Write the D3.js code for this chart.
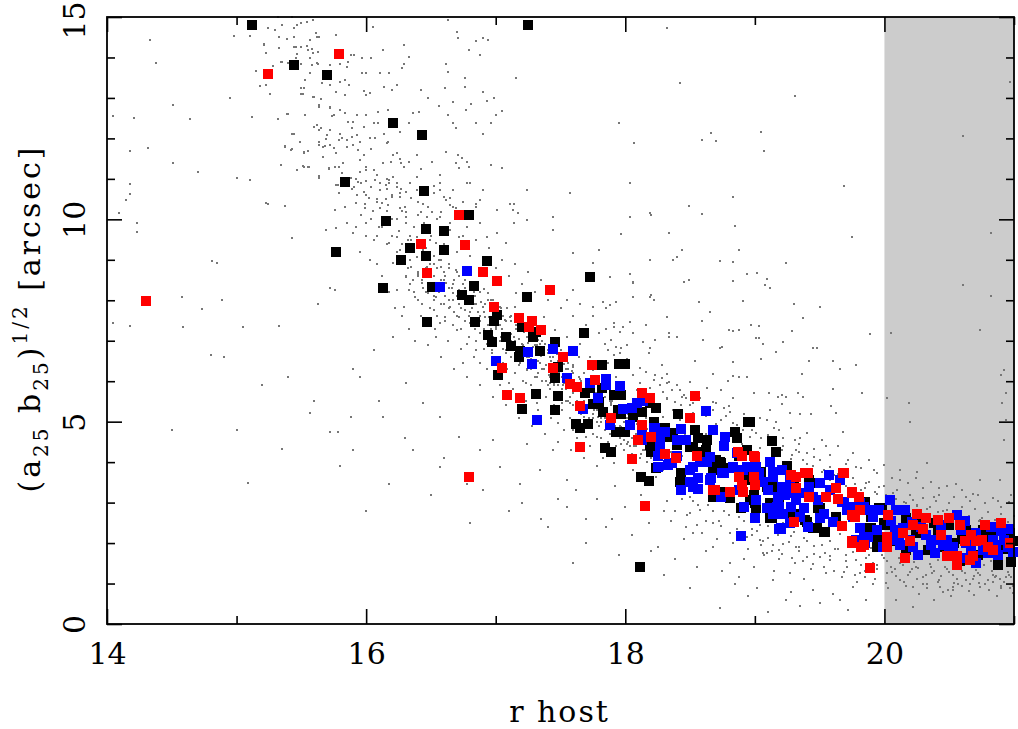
<!DOCTYPE html>
<html lang="en">
<head>
<meta charset="UTF-8">
<title>Satellite size vs host magnitude</title>
<script src="https://d3js.org/d3.v7.min.js"></script>
<style>
  body { margin: 0; background: #fff; }
  svg text { font-family: "DejaVu Serif", serif; fill: #000; }
  .pts rect { shape-rendering: crispEdges; }
</style>
</head>
<body>
<svg id="chart" width="1018" height="729"></svg>
<script>
// ---- values ----
const xDomain = [14, 21];
const yDomain = [0, 15];
const xTicks = [14, 16, 18, 20];
const xMinor = [15, 17, 19, 21];
const yTicks = [0, 5, 10, 15];
const yMinor = [1, 2, 3, 4, 6, 7, 8, 9, 11, 12, 13, 14];
const shadedRange = [20, 21];

// background sample (small grey dots), "x y" pairs
const grayDots = `
14.33 14.43, 14.38 13.87, 14.05 12.55, 14.21 12.50, 14.51 12.82, 14.64 12.48, 14.95 13.00, 14.18 11.70,
14.32 11.77, 14.51 11.39, 14.70 11.17, 15.00 11.03, 15.10 10.96, 14.18 10.87, 14.18 10.62, 14.15 10.47,
14.09 10.16, 14.23 9.90, 14.23 9.69, 15.23 10.41, 15.37 10.34, 15.43 9.53, 14.81 8.96, 14.85 8.93,
14.58 8.09, 14.73 7.78, 14.89 8.00, 14.05 7.43, 14.18 7.37, 14.59 7.35, 15.05 7.35, 15.33 7.37,
15.63 7.91, 15.72 8.30, 15.76 8.25, 15.57 5.22, 15.72 4.74, 15.78 4.74, 15.35 4.32, 15.09 3.48,
14.80 6.65, 14.90 6.60, 14.50 4.80, 15.12 12.52, 15.32 12.49, 15.39 12.60, 15.44 12.10, 15.37 11.80,
15.43 11.73, 15.52 11.65, 15.34 11.34, 15.47 11.23, 15.51 11.31, 15.56 11.30, 15.32 14.99, 15.43 14.99,
15.24 14.72, 15.30 14.68, 15.35 14.80, 15.44 14.72, 15.47 14.80, 15.50 14.84, 15.54 14.87, 15.59 14.92,
14.98 14.53, 15.21 14.33, 15.33 14.50, 15.39 14.45, 15.44 14.50, 15.57 14.43, 15.62 14.51, 15.61 14.61,
15.23 14.12, 15.33 14.24, 15.44 14.25, 15.50 14.27, 15.55 14.18, 15.59 14.10, 15.34 13.89, 15.40 13.87,
15.50 13.85, 15.58 13.81, 15.62 13.87, 15.15 13.67, 15.28 13.80, 15.18 13.29, 15.23 13.32, 15.26 13.10,
15.50 13.25, 15.51 13.10, 15.59 13.03, 15.65 12.97, 15.72 13.32, 15.64 12.78, 15.72 12.76, 15.74 12.55,
15.60 12.29, 15.65 12.25, 15.72 12.21, 15.69 11.98, 15.64 11.84, 15.68 11.80, 15.72 11.84, 15.75 11.76,
15.77 11.63, 15.67 11.55, 15.71 11.26, 15.76 11.30, 15.64 11.06, 15.77 10.85, 15.76 10.23, 15.77 9.78,
15.69 9.74,
15.64 14.51, 15.10 14.54, 15.77 14.55, 16.05 14.76, 16.70 14.62, 16.71 14.47, 16.85 14.41, 16.90 14.49,
16.94 14.43, 16.63 14.92, 15.21 14.32, 15.46 14.27, 15.54 14.29, 15.58 14.22, 15.63 14.14, 15.47 14.08,
15.46 13.98, 15.35 13.90, 15.57 13.99, 15.63 13.85, 15.72 13.81, 15.77 13.98, 15.80 13.85, 15.86 13.90,
15.85 13.77, 15.88 14.06, 15.91 14.06, 15.97 13.99, 16.04 13.98, 16.13 14.18, 16.29 14.31, 16.33 14.02,
16.28 13.73, 16.29 13.85, 16.62 13.83, 16.63 13.65, 16.76 13.50, 16.76 13.28, 16.79 14.18, 16.88 14.06,
17.16 13.50, 16.00 13.61, 15.97 13.61, 16.11 13.61, 16.18 13.61, 16.14 13.28, 16.24 13.32, 16.20 13.19,
16.42 13.19, 16.48 12.99, 16.56 12.81, 16.67 12.89, 16.81 12.84, 16.93 12.92, 16.99 12.99, 16.90 13.15,
16.77 12.70, 16.61 13.25, 15.18 13.30, 15.50 13.09, 15.52 13.25, 15.53 13.44, 15.57 13.61, 15.66 13.36,
15.80 13.40, 15.84 13.44, 15.87 13.32, 15.77 13.14, 15.84 13.07, 15.98 13.17, 16.00 13.07, 16.03 13.13,
14.95 13.00, 15.60 13.03, 15.64 12.82, 15.72 12.78, 15.75 12.58, 15.80 12.70, 15.84 12.62, 15.86 12.41,
15.90 12.41, 15.93 12.58, 16.00 12.58, 15.89 12.26, 15.98 12.29, 16.06 12.37, 16.09 12.66, 16.17 12.70,
16.09 12.37, 16.14 12.12, 16.26 12.16, 16.33 12.37, 16.36 12.62, 16.41 12.66, 15.53 12.58, 15.44 12.12,
15.40 12.60, 15.32 12.48, 15.62 12.33, 15.64 12.21, 15.70 12.08, 15.80 12.12, 15.81 12.00, 15.79 11.96,
15.85 11.96, 15.89 12.04, 15.93 12.08, 15.95 11.92, 16.03 12.02, 16.07 12.02, 16.16 11.88, 16.17 11.92,
15.49 11.92, 15.42 11.71, 15.52 11.67, 15.55 11.69, 15.64 11.92, 15.67 11.79, 15.72 11.84, 15.85 11.79,
15.90 11.84, 15.94 11.71, 15.98 11.59, 16.04 11.75, 16.21 11.59, 16.24 11.63, 16.27 11.38, 16.26 11.49,
16.19 11.42, 16.33 11.42, 16.39 11.59, 16.42 11.24, 16.51 11.42, 16.62 11.67, 16.71 11.59, 16.74 11.51,
16.78 11.42, 16.79 11.30, 16.72 11.26, 16.69 11.38, 16.96 11.34, 17.05 11.26, 16.63 12.58, 16.67 12.37,
16.69 12.25, 16.85 12.37, 16.90 12.12, 16.96 12.37, 17.00 12.58, 17.05 12.68,
15.34 11.34, 15.37 11.79, 15.43 12.10, 15.52 11.30, 15.55 11.30, 15.47 11.22, 15.64 11.03, 15.71 11.24,
15.79 11.30, 15.81 11.14, 15.88 11.01, 15.95 11.18, 16.00 11.22, 15.94 10.93, 16.00 10.95, 16.07 10.97,
16.11 10.89, 16.15 10.85, 16.16 10.76, 16.18 10.97, 16.24 10.89, 16.27 10.76, 16.20 10.56, 16.26 10.56,
16.31 10.68, 16.35 10.53, 16.39 10.72, 16.40 10.44, 16.48 10.76, 16.52 10.83, 16.57 11.09, 16.57 10.72,
16.60 10.56, 16.65 10.52, 16.67 10.31, 16.75 10.44, 16.80 10.89, 16.85 10.39, 16.88 10.48, 15.78 10.85,
15.79 10.64, 15.89 10.75, 15.93 10.60, 15.98 10.68, 16.02 10.53, 16.08 10.44, 16.11 10.27, 16.17 10.35,
16.26 10.27, 16.31 10.19, 16.42 10.19, 16.48 10.31, 16.51 10.19, 16.58 10.19, 16.65 10.35, 16.69 10.29,
15.00 11.03, 15.10 10.97, 15.24 10.39, 15.37 10.34, 15.84 10.31, 15.99 10.29, 17.11 10.39, 17.13 10.23,
17.17 10.15,
18.32 14.72, 18.42 13.36, 19.31 13.05, 17.95 12.39, 18.07 11.88, 18.59 11.96, 18.66 12.14, 18.70 11.93,
19.05 12.16, 19.07 11.69, 18.04 10.90, 19.69 10.83, 18.83 10.56, 18.49 10.33, 18.20 10.11, 18.59 10.12,
18.85 9.83, 17.97 9.64, 19.75 9.56, 18.44 9.23, 18.40 9.08, 18.88 9.23, 18.73 8.98, 18.83 8.95,
19.24 8.91, 18.06 8.46, 18.45 8.46, 18.49 8.49, 18.83 8.47, 18.94 8.64, 19.02 8.68, 19.09 8.52,
19.08 8.38, 19.12 8.31, 18.20 8.13, 18.91 7.99, 18.57 7.95, 19.30 7.90, 19.50 7.84, 19.37 7.55,
18.65 7.72, 18.59 7.49, 18.16 7.40, 18.80 7.26, 18.83 7.24, 18.88 7.26, 18.97 7.39, 19.03 7.36,
18.34 7.18, 19.29 7.24, 19.89 7.16, 20.05 7.18, 19.01 7.06, 19.03 7.07, 19.06 6.92, 18.60 7.02,
19.22 6.98, 18.73 6.83, 18.75 6.85, 19.45 6.83, 19.48 6.83, 19.42 6.49, 19.16 6.73, 19.05 6.56,
18.83 6.48, 18.54 6.50, 19.60 6.50, 19.66 6.30, 19.78 6.40, 18.68 6.19, 18.83 6.13, 18.94 6.11,
18.88 6.11, 19.36 6.18, 18.79 6.01, 18.63 5.82, 18.74 5.78, 18.99 5.71, 19.11 5.70, 19.21 5.66,
19.18 5.62, 19.24 5.62, 19.33 5.70, 19.37 5.60, 19.60 5.80, 19.83 5.71, 18.83 5.58, 19.21 5.43,
19.59 5.39, 19.12 5.29, 19.35 5.20, 19.43 5.20, 20.61 12.07, 20.97 13.40, 20.82 9.65, 20.61 8.38,
20.82 8.11, 20.74 7.26, 20.02 5.58, 20.19 5.45, 20.92 6.28, 20.90 6.15, 20.94 5.70, 20.91 5.45,
17.83 7.96, 17.85 7.80, 17.88 7.88, 17.93 7.96, 17.91 7.43, 17.85 7.30, 17.96 7.22, 17.98 7.35,
18.04 7.47, 18.06 7.18, 17.84 6.93, 17.89 7.02, 17.93 6.85, 17.87 6.77, 17.97 6.81, 18.01 6.89,
17.84 6.49, 17.91 6.65, 17.96 6.69, 18.01 6.56, 18.14 6.98, 18.19 6.81, 18.23 7.02, 18.18 6.69,
18.28 6.40, 18.11 6.32, 18.16 6.23, 18.23 6.15, 18.28 6.07, 18.32 6.19, 18.34 5.99, 18.40 5.91,
18.36 5.78, 18.42 5.78, 18.45 5.66, 18.47 5.58, 18.27 5.91, 18.22 6.03, 18.29 5.74, 18.32 5.58,
18.38 5.49, 18.43 5.41, 18.50 5.99, 18.52 5.45, 18.58 5.58, 18.70 5.45, 18.76 5.33, 18.81 5.25,
18.11 5.95, 18.06 6.15, 18.19 5.82,
15.82 11.38, 15.95 11.47, 16.06 11.22, 16.13 11.38, 16.21 11.05, 16.29 11.30, 15.91 10.81, 15.99 10.39,
16.11 10.72, 16.18 10.89, 16.26 10.64, 16.34 10.89, 16.39 11.05, 16.44 10.39, 16.52 10.64, 16.57 10.89,
16.62 10.48, 16.67 10.72, 16.57 10.06, 16.47 10.06, 16.31 10.06, 16.24 9.57, 16.06 9.49, 15.90 9.65,
16.03 8.99, 16.18 9.41, 16.39 9.57, 16.54 9.41, 16.65 9.74, 16.72 9.57, 16.78 9.82, 16.88 9.90,
16.93 9.57, 17.01 9.65, 17.08 9.41, 17.14 9.90, 17.24 9.98, 17.01 10.23, 17.14 10.39, 16.85 10.31,
16.90 10.72, 16.78 10.89, 17.24 10.72, 17.57 10.64, 17.44 9.74, 17.60 9.16, 17.75 8.91, 17.88 8.58,
18.04 8.66, 18.19 8.99, 18.06 8.09, 18.19 8.09, 18.37 8.99, 18.32 7.59, 18.40 7.10,
16.21 8.91, 16.26 9.24, 16.31 8.58, 16.35 8.83, 16.39 9.08, 16.43 8.42, 16.24 8.25, 16.38 8.09,
16.29 7.84, 16.44 9.24, 16.40 8.66, 16.33 8.25, 16.47 8.83, 16.50 8.58, 16.54 8.09, 16.58 8.83,
16.62 8.42, 16.65 7.84, 16.69 8.75, 16.52 7.76, 16.57 7.43, 16.67 8.17, 16.61 7.59, 16.48 8.17,
16.70 7.26, 16.54 7.10, 16.72 8.25, 16.76 7.76, 16.80 7.43, 16.84 7.92, 16.88 7.18, 16.92 7.59,
16.94 8.17, 16.78 6.93, 16.85 6.77, 16.93 6.93, 16.72 7.59, 16.81 8.42, 16.90 7.84, 16.96 7.26,
16.88 6.44, 16.75 6.44, 16.98 8.00, 17.01 7.43, 17.05 7.10, 17.08 6.77, 17.11 7.59, 17.15 7.84,
17.19 6.44, 16.97 6.77, 17.06 6.44, 17.14 7.10, 17.20 6.93, 17.01 6.11, 17.10 5.95, 17.16 8.17,
17.03 7.84, 17.21 7.43, 16.98 7.10, 17.24 7.10, 17.26 6.61, 17.30 6.11, 17.34 6.44, 17.38 6.93,
17.42 5.95, 17.46 7.26, 17.23 5.95, 17.32 5.45, 17.39 5.62, 17.44 6.61, 17.28 7.59, 17.37 7.59,
17.47 6.28, 17.24 6.28, 17.34 6.93, 17.50 6.77, 17.53 5.95, 17.57 5.45, 17.60 6.36, 17.64 6.61,
17.68 5.12, 17.71 6.03, 17.51 5.45, 17.60 4.79, 17.70 4.63, 17.48 4.96, 17.65 6.93, 17.55 7.10,
17.73 6.61, 17.62 5.78, 17.56 6.44, 17.75 5.53, 17.80 5.95, 17.86 4.96, 17.89 5.45, 17.93 6.11,
17.97 4.46, 17.78 4.63, 17.83 4.30, 17.91 3.97, 17.75 6.28, 17.98 5.29, 17.87 6.44, 17.95 4.79,
17.79 5.12, 17.98 5.95, 18.04 5.12, 18.09 5.78, 18.14 4.30, 18.19 4.71, 18.24 3.64, 18.29 5.12,
18.34 4.63, 18.40 4.13, 18.06 3.80, 18.22 5.45, 18.37 5.29, 18.01 4.46, 18.17 3.47, 18.32 5.95,
18.41 3.39, 18.27 3.89,
16.06 6.77, 16.21 7.10, 15.95 6.11, 16.31 5.95, 16.44 5.45, 16.57 5.12, 16.72 4.63, 16.88 4.30,
17.03 3.89, 17.19 3.47, 17.34 3.80, 17.55 3.56, 16.13 5.12, 15.90 4.30, 16.36 4.30, 16.57 3.89,
16.78 3.47, 16.98 4.54, 17.24 4.46, 17.44 4.30, 15.88 5.12, 16.18 3.47,
17.60 8.25, 17.75 7.84, 17.91 7.35, 18.06 8.42, 18.22 8.00, 18.34 7.10, 18.04 10.06, 18.19 10.15,
17.44 10.06, 17.80 9.24, 18.34 9.65,
16.60 8.50, 16.66 8.31, 16.71 8.12, 16.75 8.40, 16.80 7.98, 16.83 8.20, 16.86 7.70, 16.89 7.95,
16.91 8.28, 16.95 7.58, 16.97 7.85, 17.00 7.35, 17.02 7.66, 17.05 7.28, 17.07 7.52, 17.09 7.80,
17.12 7.17, 17.13 6.96, 17.16 7.40, 17.18 7.05, 17.21 6.80, 17.22 7.22, 17.25 6.95, 17.27 6.55,
17.29 6.85, 17.31 6.42, 17.33 7.02, 17.35 6.62, 17.37 6.30, 17.40 6.78, 17.41 6.15, 17.43 6.50,
17.45 5.95, 17.47 6.68, 17.49 6.22, 17.51 5.80, 17.53 6.42, 17.55 6.02, 17.57 5.62, 17.59 6.25,
17.61 5.85, 17.63 5.45, 17.65 6.05, 17.67 5.66, 17.69 5.28, 17.71 5.90, 17.73 5.50, 17.75 5.10,
17.77 5.72, 17.79 5.35, 17.81 4.98, 17.83 5.58, 17.85 5.18, 17.87 4.82, 17.89 5.40, 17.91 5.02,
17.93 4.66, 17.95 5.25, 17.97 4.88, 17.99 4.55, 18.01 5.10, 18.03 4.72, 18.05 5.42, 18.07 4.40,
18.09 4.95, 18.11 4.60, 18.13 5.25, 18.15 4.30, 18.17 4.82, 18.19 4.48, 18.21 5.08, 18.23 4.20,
18.25 4.70, 18.27 4.35, 18.29 4.92, 18.31 4.10, 18.33 4.58, 18.35 4.25, 18.37 4.80, 18.39 3.98,
18.42 4.46, 18.44 4.15, 18.46 4.68, 18.48 3.88, 18.50 4.36,
16.31 9.9, 16.31 8.6, 16.31 9.3, 16.34 8.4, 16.34 9.6, 16.34 9.0, 16.37 9.2, 16.37 8.2, 16.37 9.8,
16.40 8.7, 16.40 9.4, 16.40 8.0, 16.43 9.1, 16.43 7.9, 16.43 8.5, 16.46 8.2, 16.46 9.3, 16.46 8.8,
16.49 8.9, 16.49 7.8, 16.49 9.5, 16.52 8.0, 16.52 8.6, 16.52 9.1, 16.55 8.8, 16.55 7.6, 16.55 8.3,
16.58 7.9, 16.58 9.0, 16.58 8.5, 16.61 8.6, 16.61 7.5, 16.61 8.1, 16.64 7.8, 16.64 8.9, 16.64 8.3,
16.67 8.4, 16.67 7.4, 16.67 8.0, 16.70 7.6, 16.70 8.7, 16.70 8.1, 16.73 8.2, 16.73 7.3, 16.73 7.8,
16.76 7.5, 16.76 8.5, 16.76 7.9, 16.79 8.1, 16.79 7.1, 16.79 7.6, 16.82 7.4, 16.82 8.3, 16.82 7.8,
16.85 7.9, 16.85 7.0, 16.85 7.5, 16.88 7.2, 16.88 8.2, 16.88 7.6, 16.91 7.7, 16.91 6.8, 16.91 7.3,
16.94 7.0, 16.94 8.0, 16.94 7.4, 16.97 7.5, 16.97 6.7, 16.97 7.2, 17.00 6.9, 17.00 7.8, 17.00 7.3,
17.03 7.4, 17.03 6.5, 17.03 7.0, 17.06 6.8, 17.06 7.6, 17.06 7.1, 17.09 7.2, 17.09 6.3, 17.09 6.8,
17.12 6.6, 17.12 7.5, 17.12 7.0, 17.15 7.0, 17.15 6.2, 17.15 6.7, 17.18 6.4, 17.18 7.3, 17.18 6.8,
17.21 6.9, 17.21 6.0, 17.21 6.5, 17.24 6.3, 17.24 7.1, 17.24 6.6, 17.27 6.7, 17.27 5.9, 17.27 6.3,
17.30 6.1, 17.30 6.9, 17.30 6.5, 17.33 6.5, 17.33 5.7, 17.33 6.2, 17.36 6.0, 17.36 6.8, 17.36 6.3,
17.39 6.4, 17.39 5.6, 17.39 6.0, 17.42 5.8, 17.42 6.6, 17.42 6.1, 17.45 6.2, 17.45 5.4, 17.45 5.9,
17.48 5.7, 17.48 6.5, 17.48 5.9, 17.51 6.1, 17.51 5.3, 17.51 5.7, 17.54 5.5, 17.54 6.3, 17.54 5.8,
17.57 5.9, 17.57 5.1, 17.57 5.6, 17.60 5.4, 17.60 6.2, 17.60 5.7, 17.63 5.8, 17.63 5.0, 17.63 5.5,
17.66 5.2, 17.66 6.0, 17.66 5.6, 17.69 5.6, 17.69 4.9, 17.69 5.3, 17.72 5.1, 17.72 5.9, 17.72 5.4,
17.75 5.5, 17.75 4.7, 17.75 5.2, 17.78 5.0, 17.78 5.7, 17.78 5.3, 17.81 5.4, 17.81 4.6, 17.81 5.1,
17.84 4.8, 17.84 5.6, 17.84 5.1, 17.87 5.2, 17.87 4.5, 17.87 4.9, 17.90 4.7, 17.90 5.5, 17.90 5.0,
17.93 5.1, 17.93 4.4, 17.93 4.8, 17.96 4.6, 17.96 5.4, 17.96 4.9, 17.99 5.0, 17.99 4.3, 17.99 4.7,
18.02 4.5, 18.02 5.2, 18.02 4.8, 18.05 4.9, 18.05 4.2, 18.05 4.6, 18.08 4.4, 18.08 5.1, 18.08 4.7,
18.11 4.8, 18.11 4.1, 18.11 4.5, 18.14 4.3, 18.14 5.0, 18.14 4.6, 18.17 4.7, 18.17 4.0, 18.17 4.4,
18.20 4.2, 18.20 4.9, 18.20 4.5, 18.23 4.6, 18.23 3.9, 18.23 4.3, 18.26 4.1, 18.26 4.8, 18.26 4.4,
18.29 4.5, 18.29 3.8, 18.29 4.2,
15.92 10.4, 15.92 11.0, 15.92 9.8, 15.96 10.9, 15.96 10.1, 16.00 10.6, 16.00 9.9, 16.00 11.3,
16.04 10.0, 16.04 10.8, 16.08 10.5, 16.08 9.6, 16.08 11.1, 16.12 9.8, 16.12 10.4, 16.16 10.2,
16.16 9.4, 16.16 11.0, 16.20 9.6, 16.20 10.6, 16.24 10.0, 16.24 9.2, 16.24 10.8, 16.28 9.4, 16.28 10.2,
16.32 8.8, 16.32 9.5, 16.36 9.2, 16.36 8.5, 16.40 8.6, 16.40 9.4, 16.44 9.0, 16.44 8.3, 16.48 8.4,
16.48 9.2, 16.52 8.9, 16.52 8.1, 16.56 8.2, 16.56 9.0, 16.60 8.7, 16.60 7.9, 16.64 8.0, 16.64 8.8,
16.68 8.5, 16.68 7.7, 16.72 7.9, 16.72 8.6, 16.76 8.3, 16.76 7.5, 16.80 7.7, 16.80 8.4, 16.84 8.1,
16.84 7.3, 16.88 7.5, 16.88 8.2, 16.92 7.9, 16.92 7.1, 16.96 7.3, 16.96 8.0, 17.00 7.7, 17.00 6.9,
17.04 7.1, 17.04 7.8, 17.08 7.5, 17.08 6.7, 17.12 6.9, 17.12 7.6, 17.16 7.3, 17.16 6.5, 17.20 6.7,
17.20 7.4, 17.24 7.1, 17.24 6.3, 17.28 6.5, 17.28 7.2, 17.32 6.9, 17.32 6.1, 17.36 6.3, 17.36 7.0,
17.40 6.7, 17.40 5.9, 17.44 6.1, 17.44 6.8, 17.48 6.5, 17.48 5.7, 17.52 5.9, 17.52 6.6, 17.56 6.3,
17.56 5.5, 17.60 5.7, 17.60 6.4, 17.64 6.1, 17.64 5.3, 17.68 5.5, 17.68 6.2, 17.72 5.9, 17.72 5.1,
17.76 5.3, 17.76 6.0, 17.80 5.7, 17.80 4.9, 17.84 5.1, 17.84 5.8, 17.88 5.5, 17.88 4.7, 17.92 4.9,
17.92 5.6, 17.96 5.3, 17.96 4.6, 18.00 4.8, 18.00 5.4, 18.04 5.1, 18.04 4.4, 18.08 4.6, 18.08 5.3,
18.12 5.0, 18.12 4.2, 18.16 4.4, 18.16 5.1, 18.20 4.8, 18.20 4.1, 18.24 4.3, 18.24 5.0, 18.28 4.7,
18.28 3.9,
18.32 5.55, 18.38 5.30, 18.44 5.62, 18.50 5.40, 18.56 5.70, 18.62 5.15, 18.68 5.48, 18.74 5.05,
18.80 5.38, 18.86 4.92, 18.92 5.20, 18.98 4.80, 19.04 5.08, 19.10 4.68, 19.16 4.98, 19.22 4.60,
19.28 4.85, 19.34 4.45, 19.40 4.72, 19.46 4.32, 19.52 4.55, 19.58 4.18, 19.64 4.40, 19.70 3.95,
19.76 4.22, 19.82 3.85, 19.88 4.05, 19.94 3.72, 20.00 3.92, 20.06 3.62, 20.12 3.80, 20.18 3.48,
20.24 3.60, 20.30 3.35, 20.36 3.52, 20.42 3.20, 20.48 3.40, 20.54 3.15, 20.60 3.30, 20.66 3.05,
20.72 3.18, 20.78 2.98, 20.84 3.12, 20.90 2.90, 20.96 3.02,
19.05 4.60, 19.13 4.45, 19.21 4.30, 19.29 4.18, 19.37 4.05, 19.45 3.90, 19.53 3.80, 19.61 3.68,
19.69 3.55, 19.77 3.45, 19.85 3.35, 19.93 3.25, 20.01 3.18, 20.09 3.08, 20.17 3.00, 20.25 2.92,
20.33 2.85, 20.41 2.78, 20.49 2.72, 20.57 2.66, 20.65 2.60, 20.73 2.55, 20.81 2.50, 20.89 2.45,
20.97 2.40,
18.32 3.05, 18.38 2.80, 18.44 3.10, 18.50 2.75, 18.56 2.95, 18.62 2.55, 18.68 2.80, 18.74 2.42,
18.80 2.70, 18.86 2.35, 18.92 2.55, 18.98 2.20, 19.04 2.45, 19.10 2.12, 19.16 2.32, 19.22 1.98,
19.28 2.18, 19.34 1.90, 19.40 2.05, 19.46 1.72, 19.52 1.95, 19.58 1.68, 19.64 1.85, 19.70 1.55,
19.76 1.78, 19.82 1.45, 19.88 1.70, 19.94 1.35, 20.00 1.62, 20.06 1.28, 20.12 1.50, 20.18 1.22,
20.24 1.42, 20.30 1.15, 20.36 1.40, 20.42 1.08, 20.48 1.35, 20.54 1.02, 20.60 1.30, 20.66 1.00,
20.72 1.25, 20.78 0.98, 20.84 1.22, 20.90 0.95, 20.96 1.20,
19.05 1.95, 19.13 1.80, 19.21 1.72, 19.29 1.62, 19.37 1.55, 19.45 1.48, 19.53 1.40, 19.61 1.32,
19.69 1.28, 19.77 1.20, 19.85 1.30, 19.93 1.10, 20.01 1.02, 20.09 1.18, 20.17 0.95, 20.25 1.10,
20.33 0.88, 20.41 1.05, 20.49 0.85, 20.57 1.00, 20.65 0.82, 20.73 1.02, 20.81 0.85, 20.89 1.10,
20.97 0.88, 20.05 1.40, 20.21 1.35, 20.37 1.25, 20.53 1.20, 20.69 1.18, 20.85 1.15, 20.40 1.70,
20.70 1.65, 20.96 1.60, 20.20 1.85, 20.55 1.85, 20.82 1.55,
18.35 2.55, 18.47 2.40, 18.59 2.25, 18.71 2.10, 18.83 2.00, 18.95 1.85, 19.07 1.70, 19.19 1.60,
19.31 1.50, 19.43 1.35, 19.55 1.25, 19.67 1.15, 19.79 1.05, 19.91 0.98, 20.03 0.90, 20.27 0.75,
20.51 0.70, 20.69 0.72, 20.87 0.68, 20.99 0.95,
17.55 2.90, 17.62 3.30, 17.70 2.60, 17.78 3.10, 17.85 2.40, 17.92 3.40, 18.00 2.90, 18.05 2.20,
18.12 3.20, 18.18 2.50, 18.25 1.90, 18.30 2.80, 18.38 1.60, 18.45 2.10, 18.55 1.40, 18.62 1.80,
18.75 1.30, 18.85 1.00, 18.92 1.60, 19.02 0.90, 19.15 1.30, 19.28 0.80, 19.38 1.10, 19.60 0.75,
19.72 0.35, 17.95 1.70, 17.48 3.10, 17.35 2.60, 18.08 1.30, 18.50 0.90,
16.05 10.2, 16.10 9.8, 16.15 10.5, 16.20 10.0, 16.25 9.7, 16.30 10.3, 16.35 9.5, 16.40 10.1,
16.45 9.9, 16.50 9.6, 16.55 10.0, 16.60 9.4, 16.65 9.9, 16.70 9.2, 16.75 9.6, 16.80 9.1,
16.85 9.5, 16.90 8.9, 16.95 9.3, 17.00 8.8, 17.05 9.0, 17.10 8.6, 17.15 8.9, 17.20 8.4,
17.25 8.7, 17.30 8.2, 17.35 8.5, 17.40 8.0, 17.45 8.3, 17.50 7.8, 17.55 8.0, 17.60 7.6,
17.65 7.9, 17.70 7.4, 17.75 7.6, 17.80 7.2, 15.95 9.2, 16.00 9.6, 15.85 9.9, 16.08 8.9,
16.12 8.6, 16.18 8.2, 16.22 7.8, 16.28 7.6, 16.33 7.3, 16.38 7.0, 16.42 7.6, 16.48 6.9,
16.53 7.3, 16.58 6.6, 16.63 7.0, 16.68 6.3, 16.73 6.8, 16.78 6.1, 16.83 6.6, 16.88 5.9,
16.93 6.3, 16.98 5.6, 17.03 5.9, 17.08 5.4, 17.13 5.8, 17.18 5.1, 17.23 5.5, 17.28 4.9,
17.33 5.3, 17.38 4.7, 17.43 5.1, 17.48 4.5, 17.53 4.8, 17.58 4.3, 17.63 4.6, 17.68 4.1,
17.73 4.4, 17.78 3.9, 17.83 4.1,
18.42 5.04, 18.52 5.21, 18.68 5.29, 18.83 4.96, 18.91 4.79, 19.01 4.71, 19.09 5.04, 19.19 4.79,
19.27 5.21, 19.31 4.55, 19.32 4.30, 19.40 4.22, 19.50 4.05, 19.58 3.89, 19.63 5.21, 19.68 4.75,
19.78 3.89, 19.86 3.48, 19.96 3.39, 20.07 3.23, 20.20 5.00, 20.22 3.06, 20.33 3.97, 20.38 3.15,
20.48 2.82, 20.58 2.65, 20.63 3.15, 20.74 2.57, 20.86 2.40, 20.94 2.08, 20.74 3.56, 20.89 3.56,
20.92 4.55, 20.94 5.04,
18.50 3.15, 18.58 2.82, 18.68 2.49, 18.81 2.24, 18.94 2.16, 19.04 2.08, 19.09 1.75, 19.19 1.83,
19.32 1.91, 19.40 1.66, 19.50 1.66, 19.58 1.58, 19.71 1.42, 19.81 1.25, 19.91 1.50, 20.02 1.25,
20.12 1.09, 20.22 0.92, 20.33 1.00, 20.43 0.92, 20.53 0.92, 20.63 1.09, 20.74 0.92, 20.84 1.04,
20.94 1.17, 20.99 0.76, 18.52 2.24, 18.68 1.91, 18.81 1.50, 18.99 1.42, 19.14 1.09, 19.27 1.25,
19.45 0.84, 19.50 0.51, 19.66 0.59, 19.76 0.92, 19.86 0.59, 20.09 0.59, 20.22 0.43, 20.38 0.59,
20.53 0.84, 19.24 0.59, 19.06 1.75, 18.88 1.17,
19.02 2.30, 19.06 2.05, 19.10 2.42, 19.14 1.95, 19.18 2.20, 19.22 2.50, 19.26 2.02, 19.30 2.28,
19.34 1.80, 19.38 2.12, 19.42 2.36, 19.46 1.92, 19.50 2.18, 19.54 1.75, 19.58 2.05, 19.62 1.85,
19.66 2.22, 19.70 1.70, 19.74 1.95, 19.78 1.58, 19.82 1.82, 19.86 1.62, 19.90 1.88, 19.94 1.45,
19.98 1.70, 20.02 1.55, 20.05 1.80, 20.08 1.35, 20.11 1.62, 20.14 1.45, 20.17 1.72, 20.20 1.28,
20.23 1.52, 20.26 1.38, 20.29 1.65, 20.32 1.22, 20.35 1.48, 20.38 1.32, 20.41 1.58, 20.44 1.18,
20.47 1.42, 20.50 1.28, 20.53 1.52, 20.56 1.12, 20.59 1.38, 20.62 1.25, 20.65 1.48, 20.68 1.10,
20.71 1.33, 20.74 1.20, 20.77 1.45, 20.80 1.08, 20.83 1.30, 20.86 1.18, 20.89 1.42, 20.92 1.05,
20.95 1.28, 20.98 1.15, 20.30 0.98, 20.60 0.95, 20.90 0.90, 20.45 0.80, 20.15 1.05, 19.85 1.15,
19.52 3.75, 19.58 3.55, 19.64 3.70, 19.70 3.42, 19.76 3.60, 19.82 3.30, 19.88 3.50, 19.94 3.22,
20.00 3.40, 20.05 3.12, 20.10 3.30, 20.15 3.02, 20.20 3.20, 20.25 2.95, 20.30 3.12, 20.35 2.88,
20.40 3.05, 20.45 2.80, 20.50 2.98, 20.55 2.75, 20.60 2.90, 20.65 2.68, 20.70 2.85, 20.75 2.62,
20.80 2.78, 20.85 2.58, 20.90 2.72, 20.95 2.52, 21.00 2.66, 20.12 3.55, 20.42 3.35, 20.68 3.22,
20.88 3.05, 19.92 3.80, 19.72 4.05, 20.25 3.75, 20.55 3.45, 20.98 3.20,
18.55 4.90, 18.62 4.70, 18.70 4.95, 18.76 4.60, 18.84 4.75, 18.90 4.45, 18.96 4.62, 19.04 4.35,
19.10 4.52, 19.16 4.20, 19.22 4.40, 19.28 4.08, 19.34 4.25, 19.40 3.95, 19.46 4.12, 18.60 5.35,
18.78 5.15, 18.98 4.95, 19.15 4.85, 19.35 4.60, 19.55 4.40,
18.45 3.30, 18.52 3.05, 18.58 3.40, 18.64 2.95, 18.70 3.25, 18.76 2.80, 18.82 3.10, 18.88 2.65,
18.94 2.95, 19.00 2.55, 18.48 2.70, 18.72 2.55, 18.98 2.35, 18.40 3.55, 18.55 2.45,
15.40 6.10, 15.60 5.50, 15.90 6.30, 16.10 5.50, 16.30 4.60, 15.20 5.90, 15.00 4.80, 15.80 3.90,
16.50 3.20, 16.00 2.80, 16.80 2.50, 17.10 2.80, 17.40 2.40, 17.70 2.00, 17.90 2.60, 18.20 1.80,
18.30 1.20, 17.60 1.50, 16.60 4.10, 16.90 3.30, 17.20 3.00, 18.73 0.40, 18.95 0.70, 19.10 0.30,
19.35 0.45
`;

// coloured samples (filled squares)
const blackSq = `
15.12 14.80, 17.25 14.80, 15.44 13.81, 15.70 13.57, 16.21 12.38, 16.43 12.08, 16.45 10.70, 15.84 10.92,
16.15 9.96, 16.79 10.11, 15.77 9.19, 16.13 8.30, 16.27 8.99, 16.34 9.28, 16.46 9.76, 16.60 9.71,
16.60 9.23, 16.46 9.10, 16.93 8.98, 16.51 8.34, 16.83 8.36, 16.74 8.13, 16.79 8.00, 17.73 8.57,
17.24 8.08, 16.47 7.47, 16.84 7.47, 16.99 7.50, 17.01 7.64, 17.20 7.35, 17.31 7.22, 17.29 7.08,
17.68 7.20, 16.94 7.14, 16.97 6.96, 17.08 7.08, 17.12 6.88, 17.19 6.75, 17.18 6.60, 17.34 6.75,
17.46 6.98, 17.48 6.36, 17.46 6.09, 17.02 6.16, 17.31 5.68, 17.48 5.63, 17.20 5.31, 17.46 5.29,
17.82 6.41, 17.95 6.42, 18.00 6.42, 17.69 5.72, 17.73 5.82, 17.82 5.82, 17.91 5.66, 17.97 5.66,
17.75 5.44, 17.80 5.48, 17.83 5.23, 17.62 4.93, 17.71 4.93, 17.65 4.84, 17.93 4.75, 18.00 4.75,
17.84 4.34, 17.89 4.26, 18.12 3.64, 18.18 3.53, 18.06 5.12, 18.22 5.00, 18.24 5.34, 18.19 5.45,
18.19 4.42, 18.20 4.24, 18.24 3.85, 18.31 4.84, 18.37 4.71, 18.40 4.42, 17.94 5.30, 17.97 5.18,
18.13 5.25, 18.30 4.82, 18.41 5.18, 18.10 4.55, 18.27 4.65, 18.34 4.63, 18.54 4.80, 18.56 4.59,
18.63 4.55, 18.52 4.37, 18.57 4.22, 18.42 3.52, 18.43 3.72, 18.86 4.59, 18.85 4.75, 18.95 5.00,
19.13 4.51, 19.16 4.24, 18.74 3.99, 18.68 3.81, 18.68 3.15, 18.75 3.27, 18.81 3.11, 18.92 3.81,
18.94 3.64, 18.99 3.19, 19.00 2.98, 19.12 3.39, 19.19 3.39, 19.12 2.98, 19.19 3.11, 19.30 2.73,
19.13 2.61, 18.89 2.86, 18.11 1.42, 19.44 3.48, 19.30 3.56, 19.24 2.73, 19.39 2.57, 19.45 2.37,
19.53 2.28, 19.50 2.86, 19.85 3.02, 19.91 2.78, 19.96 2.86, 20.02 2.45, 19.95 2.12, 19.94 1.91,
20.17 2.61, 20.17 1.83, 20.27 2.53, 20.34 1.83, 20.41 2.28, 20.50 2.45, 20.54 1.99, 20.63 2.32,
20.68 2.24, 20.76 2.32, 20.88 1.46, 20.97 2.24, 20.98 1.53, 19.90 2.37, 19.84 2.37, 18.62 4.30,
18.70 4.05, 18.80 3.85, 18.88 4.15, 19.05 3.75, 19.25 3.90,
18.96 5.00, 18.54 4.79, 18.50 4.38, 18.59 4.26, 18.73 4.01, 18.94 4.30, 18.97 3.56, 19.09 3.39,
19.27 3.60, 19.29 3.56, 19.42 3.56, 18.96 3.06, 19.01 2.86, 19.12 2.61, 19.40 2.53, 19.49 2.86,
19.54 2.28, 19.48 2.36, 19.63 2.65, 19.90 2.65, 19.98 2.86, 19.84 2.36, 20.00 2.49, 19.95 1.95,
20.04 2.16, 20.08 2.05, 20.24 2.25, 20.46 1.90, 20.60 2.10, 20.72 1.70, 20.82 2.15, 20.92 1.85,
20.38 2.50, 20.58 1.55, 21.00 2.05
`;

const redSq = `
15.79 14.08, 15.24 13.60, 14.30 7.98, 16.72 10.11, 16.42 9.38, 16.76 9.36, 16.47 8.67, 16.90 8.69,
17.01 8.47, 17.42 8.25, 16.99 7.83, 17.18 7.55, 17.28 7.50, 17.26 7.33, 17.35 7.26, 17.52 6.61,
17.05 6.32, 17.44 6.32, 17.74 6.39, 17.77 6.03, 17.57 5.92, 17.63 5.85, 17.09 5.65, 17.19 5.59,
17.65 5.39, 17.89 5.09, 18.13 5.72, 18.13 4.92, 17.65 4.37, 18.05 4.07, 16.79 3.64, 18.20 4.63,
18.31 4.20, 18.19 5.58, 18.54 5.63, 18.50 5.10, 18.10 4.55, 18.15 2.92, 18.39 4.09, 18.55 4.14,
18.68 3.32, 18.81 3.27, 18.90 4.14, 18.90 3.44, 18.99 4.14, 19.00 4.12, 19.28 3.68, 19.32 3.64,
19.30 2.51, 18.88 3.64, 18.99 3.64, 19.41 3.72, 19.39 3.72, 19.32 3.35, 19.63 3.35, 19.68 3.72,
19.75 3.23, 19.80 3.15, 19.77 2.65, 19.67 2.41, 19.75 2.04, 19.82 1.91, 19.89 1.38, 20.02 2.16,
20.02 1.91, 20.16 1.62, 20.14 2.24, 20.22 2.45, 20.25 2.73, 20.32 2.61, 20.41 2.57, 20.50 2.61,
20.58 2.45, 20.67 2.20, 20.71 2.04, 20.75 2.08, 20.68 1.67, 20.56 1.67, 20.56 1.46, 20.84 1.83,
20.97 1.99, 20.80 1.91, 20.66 1.58, 20.48 1.68,
18.87 4.26, 18.91 3.27, 19.00 3.43, 19.40 3.72, 19.42 3.15, 19.69 3.72, 19.75 3.27, 19.81 2.82,
19.75 2.69, 19.75 2.00, 19.84 1.95, 20.03 2.69, 19.64 3.10, 19.55 3.15, 18.69 3.31,
20.30 2.35, 20.62 2.05, 20.90 2.50, 20.44 2.20, 20.78 2.45, 20.20 2.05
`;

const blueSq = `
16.78 8.73, 16.57 8.34, 17.25 6.72, 17.44 6.80, 17.60 6.74, 17.00 6.50, 17.28 6.42, 17.55 6.09,
17.85 6.05, 17.73 5.96, 17.85 5.90, 17.96 5.87, 17.79 5.58, 17.67 5.31, 17.32 5.03, 17.88 4.92,
17.98 5.31, 18.05 5.33, 18.09 5.45, 18.14 5.52, 18.04 4.92, 18.13 4.71, 18.13 4.55, 18.22 4.84,
18.27 4.38, 18.25 4.14, 18.34 3.97, 18.23 4.84, 18.27 4.59, 18.31 4.75, 18.40 4.55, 18.43 4.82,
18.47 4.55, 18.36 3.97, 18.25 3.89, 18.33 3.93, 18.40 4.15, 18.62 5.27, 18.68 4.79, 18.77 4.63,
18.76 4.40, 18.63 4.01, 18.52 3.89, 18.50 3.52, 18.56 3.33, 18.43 3.31, 18.66 3.60, 18.75 3.72,
18.83 3.89, 18.94 3.89, 19.01 3.89, 19.12 4.01, 19.03 3.72, 19.14 3.64, 19.21 3.39, 19.27 3.39,
19.19 2.90, 19.14 2.73, 19.00 2.61, 18.89 2.18, 19.20 2.34, 19.32 3.15, 19.21 3.81, 19.27 3.56,
19.23 3.19, 19.35 3.23, 19.42 3.39, 19.45 3.15, 19.57 3.68, 19.50 3.48, 19.58 3.31, 19.69 3.02,
19.75 2.90, 19.81 2.98, 19.89 2.82, 19.96 2.82, 20.04 3.06, 20.09 2.82, 20.16 2.82, 20.21 2.53,
20.14 2.37, 20.08 2.32, 19.91 2.65, 19.87 2.16, 19.78 2.08, 19.99 1.91, 20.04 2.08, 20.11 2.16,
20.20 2.08, 20.22 1.91, 20.32 2.20, 20.40 2.08, 20.48 2.08, 20.56 2.69, 20.59 2.32, 20.63 1.99,
20.71 2.24, 20.76 1.83, 20.84 2.08, 20.92 2.08, 20.95 1.91, 20.99 1.79, 20.39 1.75, 20.50 1.71,
20.61 1.62, 20.71 1.50, 20.80 1.75, 20.88 1.71, 19.20 2.37, 19.66 3.56, 19.81 2.37, 19.85 2.00,
20.36 1.95, 20.45 1.95,
18.86 4.23, 18.65 4.13, 18.58 4.01, 18.50 3.81, 18.56 3.60, 18.65 3.56, 18.76 3.72, 18.83 3.85,
18.91 3.81, 19.14 3.76, 19.21 3.81, 19.06 3.52, 19.10 3.31, 19.18 3.15, 19.24 3.23, 19.32 3.06,
19.17 2.90, 19.09 2.86, 19.01 3.06, 18.92 2.90, 19.22 2.73, 19.28 2.90, 19.38 2.86, 19.49 3.06,
19.58 3.31, 19.67 3.02, 19.71 2.82, 19.53 2.73, 19.35 2.65, 19.27 2.49, 19.19 2.34, 19.41 2.40,
19.50 2.61, 19.60 2.53, 19.76 2.65, 19.84 2.90, 19.94 2.32, 19.84 2.16, 20.02 2.08, 18.52 3.39,
18.74 3.15, 18.88 3.31,
20.05 2.55, 20.28 2.40, 20.44 2.45, 20.62 2.55, 20.82 2.40, 20.90 2.30, 20.26 1.70, 20.53 1.90,
20.67 1.85, 20.86 1.95, 20.12 1.95, 20.96 2.35
`;

function parsePts(s) {
  return s.split(",").map(p => p.trim()).filter(p => p.length)
    .map(p => p.split(/\s+/).map(Number));
}

const svg = d3.select("#chart");
const margin = { top: 17, right: 4, bottom: 105, left: 107 };
const W = 1018, H = 729;

const x = d3.scaleLinear().domain(xDomain).range([margin.left, W - margin.right]);
const y = d3.scaleLinear().domain(yDomain).range([H - margin.bottom, margin.top]);

// shaded magnitude range
svg.append("rect")
  .attr("x", x(shadedRange[0]))
  .attr("y", y(yDomain[1]))
  .attr("width", x(shadedRange[1]) - x(shadedRange[0]))
  .attr("height", y(yDomain[0]) - y(yDomain[1]))
  .attr("fill", "#cccccc");

// grey background dots
svg.append("g").attr("class", "pts").selectAll("rect")
  .data(parsePts(grayDots))
  .join("rect")
  .attr("x", d => Math.round(x(d[0])) - 1)
  .attr("y", d => Math.round(y(d[1])) - 1)
  .attr("width", 2)
  .attr("height", 2)
  .attr("fill", "#777777");

// coloured squares
const sq = 10;
[[blackSq, "#000000"], [blueSq, "#0000ff"], [redSq, "#ff0000"]].forEach(([s, col]) => {
  svg.append("g").attr("class", "pts").selectAll("rect")
    .data(parsePts(s))
    .join("rect")
    .attr("x", d => Math.round(x(d[0]) - sq / 2))
    .attr("y", d => Math.round(y(d[1]) - sq / 2))
    .attr("width", sq)
    .attr("height", sq)
    .attr("fill", col);
});

// axes: ticks point inward on all four sides
function styleAxis(g) {
  g.select(".domain").remove();
  g.selectAll(".tick line").attr("stroke", "#000").attr("stroke-width", 1.6);
}
const bottomY = y(yDomain[0]), topY = y(yDomain[1]);
const leftX = x(xDomain[0]), rightX = x(xDomain[1]);

svg.append("g").attr("transform", `translate(0,${bottomY})`)
  .call(d3.axisBottom(x).tickValues(xTicks).tickSize(-15).tickPadding(19).tickFormat(d3.format("d")))
  .call(styleAxis)
  .call(g => g.selectAll("text").attr("font-size", 30).attr("font-family", "DejaVu Serif"));
svg.append("g").attr("transform", `translate(0,${bottomY})`)
  .call(d3.axisBottom(x).tickValues(xMinor).tickSize(-8).tickFormat(""))
  .call(styleAxis);
svg.append("g").attr("transform", `translate(0,${topY})`)
  .call(d3.axisTop(x).tickValues(xTicks).tickSize(-15).tickFormat(""))
  .call(styleAxis);
svg.append("g").attr("transform", `translate(0,${topY})`)
  .call(d3.axisTop(x).tickValues(xMinor).tickSize(-8).tickFormat(""))
  .call(styleAxis);

svg.append("g").attr("transform", `translate(${leftX},0)`)
  .call(d3.axisLeft(y).tickValues(yTicks).tickSize(-15).tickFormat(d3.format("d")))
  .call(styleAxis)
  .call(g => g.selectAll("text")
    .attr("font-size", 30).attr("font-family", "DejaVu Serif")
    .attr("text-anchor", "middle")
    .attr("x", d => (d === yDomain[1] ? -3 : 0)).attr("y", -22).attr("dy", 0)
    .attr("transform", "rotate(-90)"));
svg.append("g").attr("transform", `translate(${leftX},0)`)
  .call(d3.axisLeft(y).tickValues(yMinor).tickSize(-8).tickFormat(""))
  .call(styleAxis);
svg.append("g").attr("transform", `translate(${rightX},0)`)
  .call(d3.axisRight(y).tickValues(yTicks).tickSize(-15).tickFormat(""))
  .call(styleAxis);
svg.append("g").attr("transform", `translate(${rightX},0)`)
  .call(d3.axisRight(y).tickValues(yMinor).tickSize(-8).tickFormat(""))
  .call(styleAxis);

// frame
svg.append("rect")
  .attr("x", leftX).attr("y", topY)
  .attr("width", rightX - leftX).attr("height", bottomY - topY)
  .attr("fill", "none").attr("stroke", "#000").attr("stroke-width", 1.8);

// axis titles
svg.append("text")
  .attr("x", (leftX + rightX) / 2 - 1)
  .attr("y", 722)
  .attr("text-anchor", "middle")
  .attr("font-size", 30)
  .attr("letter-spacing", 2)
  .text("r host");

const yl = svg.append("text")
  .attr("transform", `translate(40,${(topY + bottomY) / 2 - 2}) rotate(-90)`)
  .attr("text-anchor", "middle")
  .attr("font-size", 30)
  .attr("letter-spacing", 3);
yl.append("tspan").text("(a");
yl.append("tspan").attr("font-size", 20).attr("dy", 8).text("25");
yl.append("tspan").attr("dy", -8).text(" b");
yl.append("tspan").attr("font-size", 20).attr("dy", 8).text("25");
yl.append("tspan").attr("dy", -8).text(")");
yl.append("tspan").attr("font-size", 20).attr("dy", -13).text("1/2");
yl.append("tspan").attr("dy", 13).text(" [arcsec]");
</script>
</body>
</html>
